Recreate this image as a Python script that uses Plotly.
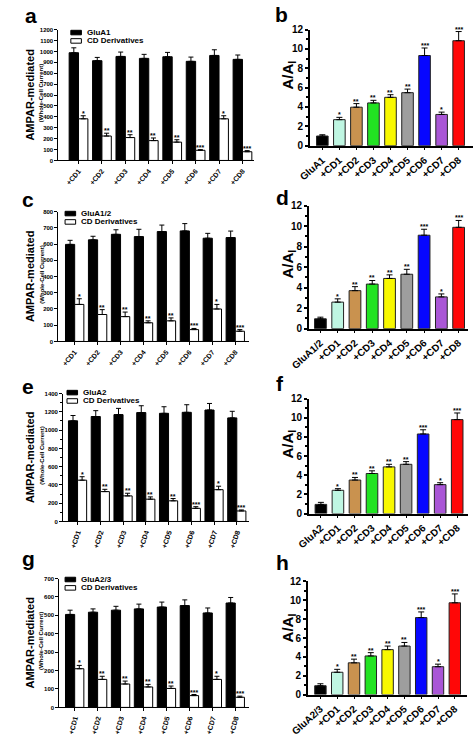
import plotly.graph_objects as go

W, H = 474, 737
FONT = "Liberation Sans, Arial, sans-serif"

# ---------------- data ----------------
cd_cats = ["+CD1", "+CD2", "+CD3", "+CD4", "+CD5", "+CD6", "+CD7", "+CD8"]
stars_cd = ["*", "**", "**", "**", "**", "***", "*", "***"]
legend_cd = "CD Derivatives"

# panel a  (GluA1)
a_receptor = "GluA1"
a_glu = [988, 915, 954, 936, 951, 909, 963, 927]
a_glu_err = [45, 30, 40, 37, 40, 39, 52, 40]
a_cd = [382, 224, 210, 182, 168, 93, 382, 80]
a_cd_err = [28, 26, 26, 24, 22, 6, 28, 10]

# panel c  (GluA1/2)
c_receptor = "GluA1/2"
c_glu = [598, 626, 660, 646, 677, 681, 636, 640]
c_glu_err = [25, 22, 28, 45, 40, 45, 30, 40]
c_cd = [228, 166, 153, 115, 127, 73, 200, 63]
c_cd_err = [35, 30, 28, 12, 18, 7, 28, 10]

# panel e  (GluA2)
e_receptor = "GluA2"
e_glu = [1102, 1149, 1170, 1192, 1184, 1195, 1220, 1134]
e_glu_err = [58, 64, 68, 75, 72, 83, 72, 72]
e_cd = [452, 327, 280, 244, 226, 144, 348, 115]
e_cd_err = [38, 25, 29, 25, 25, 18, 38, 11]

# panel g  (GluA2/3)
g_receptor = "GluA2/3"
g_glu = [505, 517, 528, 535, 545, 553, 513, 567]
g_glu_err = [23, 18, 21, 26, 27, 31, 27, 30]
g_cd = [210, 152, 127, 111, 103, 64, 152, 55]
g_cd_err = [18, 17, 16, 14, 13, 6, 17, 6]

# ratio panels
ratio_stars = [""] + stars_cd
ratio_colors = ["#000000", "#bff6e2", "#c9924f", "#22e322", "#f8f800",
                "#9e9e9e", "#0707ff", "#a956d6", "#ff0707"]

b_cats = ["GluA1"] + cd_cats
b_vals = [1.0, 2.69, 3.98, 4.42, 5.0, 5.48, 9.32, 3.23, 10.85]
b_err = [0.13, 0.24, 0.37, 0.27, 0.27, 0.37, 0.78, 0.24, 0.95]

d_cats = ["GluA1/2"] + cd_cats
d_vals = [0.96, 2.59, 3.71, 4.35, 4.9, 5.31, 9.12, 3.1, 9.89]
d_err = [0.16, 0.32, 0.39, 0.35, 0.35, 0.48, 0.58, 0.29, 0.67]

f_cats = ["GluA2"] + cd_cats
f_vals = [0.96, 2.43, 3.5, 4.18, 4.87, 5.14, 8.3, 3.02, 9.8]
f_err = [0.21, 0.17, 0.27, 0.28, 0.27, 0.28, 0.44, 0.2, 0.69]

h_cats = ["GluA2/3"] + cd_cats
h_vals = [0.94, 2.37, 3.37, 4.1, 4.77, 5.15, 8.17, 2.96, 9.74]
h_err = [0.21, 0.31, 0.39, 0.35, 0.38, 0.38, 0.6, 0.27, 0.94]

# ---------------- layout geometry (pixels) ----------------
def fx(p):
    return p / W


def fy(p):
    return 1 - p / H


left_panels = [
    dict(letter="a", k=1, rec=a_receptor, glu=a_glu, glu_err=a_glu_err, cd=a_cd, cd_err=a_cd_err,
         ymax=1200, dtick=100, minor=None, ax=41, c0=62, s=24.4, xr=245, y0=157, y1=24,
         angle=-50, leg_x=54, leg_y=27, lab=(4, 10)),
    dict(letter="c", k=3, rec=c_receptor, glu=c_glu, glu_err=c_glu_err, cd=c_cd, cd_err=c_cd_err,
         ymax=800, dtick=100, minor=None, ax=41, c0=58, s=23.9, xr=240, y0=341, y1=209,
         angle=-50, leg_x=48, leg_y=211, lab=(1, 197)),
    dict(letter="e", k=5, rec=e_receptor, glu=e_glu, glu_err=e_glu_err, cd=e_cd, cd_err=e_cd_err,
         ymax=1400, dtick=200, minor=100, ax=46, c0=61, s=23.7, xr=240, y0=524, y1=394,
         angle=-72, leg_x=50, leg_y=393, lab=(1, 387)),
    dict(letter="g", k=7, rec=g_receptor, glu=g_glu, glu_err=g_glu_err, cd=g_cd, cd_err=g_cd_err,
         ymax=700, dtick=100, minor=None, ax=42, c0=58, s=23.9, xr=240, y0=713, y1=582,
         angle=-75, leg_x=48, leg_y=583, lab=(1, 562)),
]

right_panels = [
    dict(letter="b", k=2, cats=b_cats, vals=b_vals, err=b_err, ax=303, c0=316, s=17.75, xr=473,
         y0=142, y1=24, title_y=70, lab=(265, 9)),
    dict(letter="d", k=4, cats=d_cats, vals=d_vals, err=d_err, ax=302, c0=314, s=18.0, xr=468,
         y0=328, y1=203, title_y=262, lab=(266, 195)),
    dict(letter="f", k=6, cats=f_cats, vals=f_vals, err=f_err, ax=302, c0=314.5, s=17.75, xr=468,
         y0=516, y1=399, title_y=445, lab=(266, 384)),
    dict(letter="h", k=8, cats=h_cats, vals=h_vals, err=h_err, ax=301, c0=314, s=17.5, xr=467,
         y0=700, y1=585, title_y=632, lab=(266, 566)),
]

fig = go.Figure()
annotations = []
shapes = []


def axname(prefix, k):
    return prefix if k == 1 else f"{prefix}{k}"


def axref(letter, k):
    return letter if k == 1 else f"{letter}{k}"


def bold(t):
    return f"<b>{t}</b>"


layout_axes = {}

for p in left_panels:
    k = p["k"]
    xr_ = axref("x", k)
    yr_ = axref("y", k)
    idx = list(range(len(cd_cats)))
    fig.add_trace(go.Bar(
        x=idx, y=p["glu"], width=0.4, offset=-0.4, xaxis=xr_, yaxis=yr_,
        marker=dict(color="black", line=dict(color="black", width=1)),
        error_y=dict(type="data", symmetric=False, array=p["glu_err"],
                     arrayminus=[0] * len(idx), color="black", thickness=1, width=2.5),
        showlegend=False, name=p["rec"]))
    fig.add_trace(go.Bar(
        x=idx, y=p["cd"], width=0.4, offset=0.0, xaxis=xr_, yaxis=yr_,
        marker=dict(color="white", line=dict(color="black", width=1)),
        error_y=dict(type="data", symmetric=False, array=p["cd_err"],
                     arrayminus=[0] * len(idx), color="black", thickness=1, width=2.5),
        showlegend=False, name=legend_cd))
    lo = -(p["c0"] - p["ax"]) / p["s"]
    hi = (p["xr"] - p["c0"]) / p["s"]
    layout_axes[axname("xaxis", k)] = dict(
        domain=[fx(p["ax"]), fx(p["xr"])], anchor=yr_, range=[lo, hi],
        tickvals=idx, ticktext=[bold(c) for c in cd_cats], tickangle=p["angle"],
        tickfont=dict(family=FONT, size=7, color="black"),
        showline=True, linecolor="black", linewidth=1, ticks="outside", ticklen=3,
        tickcolor="black", showgrid=False, zeroline=False, fixedrange=True)
    yax = dict(
        domain=[fy(p["y0"]), fy(p["y1"])], anchor=xr_, range=[0, p["ymax"]],
        dtick=p["dtick"], tick0=0, tickprefix="<b>", ticksuffix="</b>",
        tickfont=dict(family=FONT, size=6, color="black"),
        showline=True, linecolor="black", linewidth=1, ticks="outside", ticklen=3,
        tickcolor="black", showgrid=False, zeroline=False, fixedrange=True)
    if p["minor"]:
        yax["minor"] = dict(dtick=p["minor"], ticks="outside", ticklen=2, tickcolor="black")
    layout_axes[axname("yaxis", k)] = yax

    for i, st in enumerate(stars_cd):
        annotations.append(dict(
            x=i + 0.2, y=p["cd"][i] + p["cd_err"][i], xref=xr_, yref=yr_, text=bold(st),
            showarrow=False, yanchor="bottom", yshift=-3,
            font=dict(family=FONT, size=7, color="black")))

    ymid = (p["y0"] + p["y1"]) / 2
    annotations.append(dict(
        x=fx(11), y=fy(ymid), xref="paper", yref="paper", text=bold("AMPAR-mediated"),
        textangle=-90, showarrow=False, xanchor="center", yanchor="middle",
        font=dict(family=FONT, size=11, color="black")))
    annotations.append(dict(
        x=fx(23), y=fy(ymid - 2), xref="paper", yref="paper", text=bold("(Whole-Cell Current)"),
        textangle=-90, showarrow=False, xanchor="center", yanchor="middle",
        font=dict(family=FONT, size=6, color="black")))

    for j, (lab, fill) in enumerate([(p["rec"], "black"), (legend_cd, "white")]):
        yc = p["leg_y"] + j * 8.5
        shapes.append(dict(type="rect", xref="paper", yref="paper",
                           x0=fx(p["leg_x"]), x1=fx(p["leg_x"] + 11),
                           y0=fy(yc + 2.3), y1=fy(yc - 2.3),
                           fillcolor=fill, line=dict(color="black", width=1)))
        annotations.append(dict(
            x=fx(p["leg_x"] + 15), y=fy(yc), xref="paper", yref="paper", text=bold(lab),
            showarrow=False, xanchor="left", yanchor="middle",
            font=dict(family=FONT, size=8, color="black")))

    annotations.append(dict(
        x=fx(p["lab"][0]), y=fy(p["lab"][1]), xref="paper", yref="paper", text=bold(p["letter"]),
        showarrow=False, xanchor="left", yanchor="middle",
        font=dict(family=FONT, size=21, color="black")))

for p in right_panels:
    k = p["k"]
    xr_ = axref("x", k)
    yr_ = axref("y", k)
    idx = list(range(len(p["cats"])))
    fig.add_trace(go.Bar(
        x=idx, y=p["vals"], width=0.68, xaxis=xr_, yaxis=yr_,
        marker=dict(color=ratio_colors, line=dict(color="#222222", width=1)),
        error_y=dict(type="data", symmetric=False, array=p["err"],
                     arrayminus=[0] * len(idx), color="black", thickness=1, width=3),
        showlegend=False))
    lo = -(p["c0"] - p["ax"]) / p["s"]
    hi = (p["xr"] - p["c0"]) / p["s"]
    layout_axes[axname("xaxis", k)] = dict(
        domain=[fx(p["ax"]), fx(p["xr"])], anchor=yr_, range=[lo, hi],
        tickvals=idx, ticktext=[bold(c) for c in p["cats"]], tickangle=-42,
        tickfont=dict(family=FONT, size=10, color="black"),
        showline=True, linecolor="black", linewidth=1.5, ticks="outside", ticklen=3,
        tickcolor="black", showgrid=False, zeroline=False, fixedrange=True)
    layout_axes[axname("yaxis", k)] = dict(
        domain=[fy(p["y0"]), fy(p["y1"])], anchor=xr_, range=[0, 12], dtick=2, tick0=0,
        tickprefix="<b>", ticksuffix="</b>",
        tickfont=dict(family=FONT, size=10, color="black"),
        showline=True, linecolor="black", linewidth=1.5, ticks="outside", ticklen=3,
        tickcolor="black", tickwidth=1.5,
        minor=dict(dtick=1, ticks="outside", ticklen=2, tickcolor="black"),
        showgrid=False, zeroline=False, fixedrange=True)

    for i, st in enumerate(ratio_stars):
        if st:
            annotations.append(dict(
                x=i, y=p["vals"][i] + p["err"][i], xref=xr_, yref=yr_, text=bold(st),
                showarrow=False, yanchor="bottom", yshift=-3,
                font=dict(family=FONT, size=7, color="black")))

    annotations.append(dict(
        x=fx(281), y=fy(p["title_y"]), xref="paper", yref="paper",
        text="<b>A/A</b><sub><b>I</b></sub>", textangle=-90, showarrow=False,
        xanchor="center", yanchor="middle",
        font=dict(family=FONT, size=15, color="black")))

    annotations.append(dict(
        x=fx(p["lab"][0]), y=fy(p["lab"][1]), xref="paper", yref="paper", text=bold(p["letter"]),
        showarrow=False, xanchor="left", yanchor="middle",
        font=dict(family=FONT, size=21, color="black")))

fig.update_layout(
    width=W, height=H, margin=dict(l=0, r=0, t=0, b=0),
    paper_bgcolor="white", plot_bgcolor="white",
    barmode="overlay", showlegend=False,
    annotations=annotations, shapes=shapes,
    **layout_axes)

fig.write_html("out.html", config={"displayModeBar": False})
